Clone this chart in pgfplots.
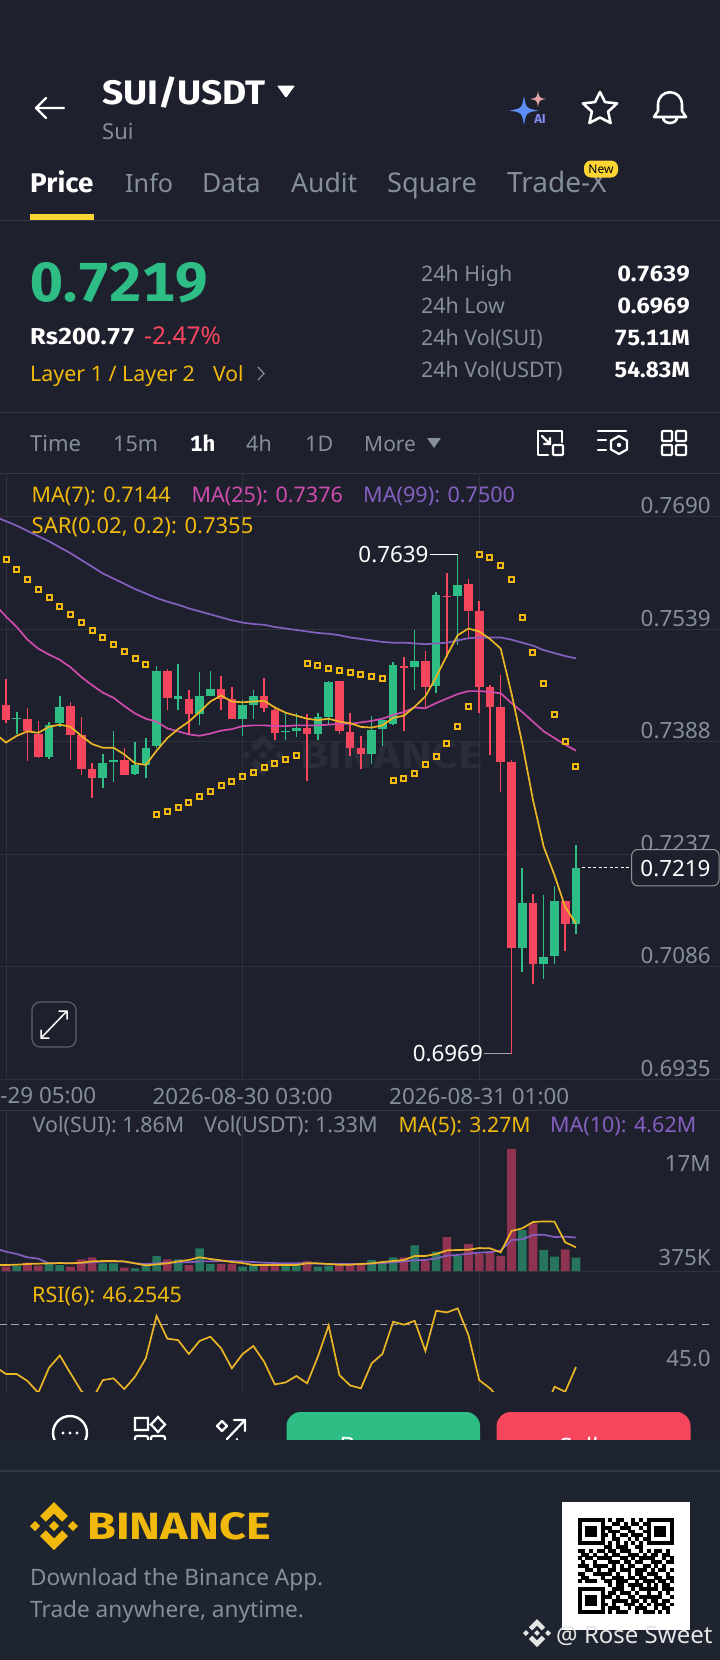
\documentclass[border=0pt]{standalone}
\usepackage{pgfplots}
\usepackage{pgfplotstable}
\usepackage{fontspec}
\setmainfont{Noto Sans}
\newfontfamily\semi{Fira Sans}[Numbers=Monospaced]
\newcommand\SB[1]{\semi\bfseries\addfontfeature{FakeStretch=#1}}
\pgfplotsset{compat=1.18}
\definecolor{bg}{HTML}{1E212D}
\definecolor{bgf}{HTML}{1E2530}
\definecolor{gridc}{HTML}{2E323D}
\definecolor{sepc}{HTML}{343843}
\definecolor{grayt}{HTML}{848E9C}
\definecolor{cgreen}{HTML}{2EBD85}
\definecolor{cred}{HTML}{F6465D}
\definecolor{dgreen}{HTML}{26755C}
\definecolor{dred}{HTML}{8E3350}
\definecolor{cyellow}{HTML}{F0B90B}
\definecolor{lyellow}{HTML}{EBB526}
\definecolor{cmag}{HTML}{CF4CAD}
\definecolor{cpur}{HTML}{8560C0}
\definecolor{wm}{HTML}{292D39}
\definecolor{cblue}{HTML}{5B8DF5}
\definecolor{cpink}{HTML}{E6A3A8}
\definecolor{cai}{HTML}{7F8CF0}
\definecolor{cnew}{HTML}{FCD535}
% i bot top low high
\pgfplotstableread{
i bot top L H
1 .7419 .7420 .7398 .7428
4 .7368 .7410 .7365 .7415
5 .7413 .7435 .7408 .7450
9 .7339 .7360 .7326 .7372
10 .7361 .7363 .7334 .7402
12 .7345 .7357 .7343 .7388
13 .7357 .7380 .7340 .7393
14 .7382 .7483 .7379 .7490
16 .7446 .7449 .7431 .7493
18 .7425 .7450 .7410 .7482
19 .7450 .7459 .7449 .7483
22 .7419 .7438 .7396 .7444
23 .7438 .7450 .7419 .7457
26 .7401 .7402 .7391 .7426
27 .7403 .7406 .7395 .7426
29 .7399 .7421 .7391 .7427
30 .7421 .7468 .7412 .7470
34 .7372 .7404 .7358 .7423
35 .7405 .7417 .7382 .7419
36 .7412 .7491 .7410 .7495
38 .7489 .7497 .7458 .7538
40 .7463 .7585 .7454 .7589
42 .7584 .7599 .7518 .7639
48 .7111 .7172 .7079 .7219
50 .7090 .7099 .7070 .7183
51 .7101 .7174 .7090 .7194
53 .7143 .7219 .7130 .7249
}\candG
\pgfplotstableread{
i bot top L H
0 .7417 .7437 .7413 .7472
2 .7402 .7418 .7362 .7433
3 .7367 .7398 .7366 .7416
6 .7397 .7436 .7363 .7441
7 .7352 .7397 .7343 .7421
8 .7339 .7351 .7313 .7360
11 .7343 .7363 .7343 .7379
15 .7447 .7483 .7430 .7486
17 .7425 .7446 .7399 .7457
20 .7446 .7459 .7430 .7476
21 .7419 .7446 .7419 .7462
24 .7433 .7450 .7428 .7473
25 .7400 .7431 .7390 .7433
28 .7399 .7407 .7336 .7425
31 .7402 .7470 .7398 .7470
32 .7379 .7401 .7369 .7426
33 .7372 .7379 .7351 .7396
37 .7487 .7490 .7402 .7502
39 .7462 .7496 .7434 .7510
41 .7582 .7584 .7502 .7614
43 .7563 .7600 .7527 .7606
44 .7461 .7563 .7426 .7577
45 .7435 .7462 .7370 .7464
46 .7361 .7435 .7320 .7477
47 .7111 .7361 .6969 .7364
49 .7090 .7172 .7063 .7184
52 .7143 .7174 .7107 .7174
}\candR
\pgfplotstableread{
i ma7 ma25 ma99
-1 .7399 .7572 .7690
0 .7387 .7556 .7684
1 .7396 .7542 .7678
2 .7402 .7525 .7671
3 .7400 .7513 .7664
4 .7408 .7505 .7657
5 .7411 .7498 .7649
6 .7408 .7488 .7641
7 .7396 .7475 .7632
8 .7385 .7464 .7623
9 .7380 .7454 .7614
10 .7380 .7447 .7607
11 .7371 .7436 .7600
12 .7359 .7426 .7593
13 .7357 .7419 .7587
14 .7376 .7415 .7581
15 .7393 .7406 .7576
16 .7405 .7402 .7572
17 .7415 .7398 .7567
18 .7428 .7396 .7563
19 .7442 .7399 .7559
20 .7450 .7403 .7555
21 .7442 .7405 .7551
22 .7441 .7409 .7548
23 .7442 .7410 .7546
24 .7443 .7410 .7545
25 .7434 .7409 .7542
26 .7427 .7409 .7540
27 .7423 .7410 .7538
28 .7419 .7410 .7536
29 .7417 .7410 .7534
30 .7419 .7411 .7533
31 .7415 .7412 .7531
32 .7413 .7412 .7528
33 .7408 .7414 .7526
34 .7407 .7416 .7524
35 .7410 .7419 .7522
36 .7420 .7424 .7521
37 .7423 .7428 .7521
38 .7435 .7434 .7520
39 .7449 .7433 .7519
40 .7475 .7440 .7520
41 .7504 .7446 .7521
42 .7531 .7452 .7524
43 .7540 .7456 .7527
44 .7536 .7456 .7528
45 .7526 .7455 .7528
46 .7513 .7453 .7528
47 .7453 .7440 .7525
48 .7386 .7428 .7521
49 .7310 .7415 .7517
50 .7247 .7402 .7511
51 .7209 .7393 .7507
52 .7166 .7384 .7503
53 .7144 .7376 .7500
}\maT
\pgfplotstableread{
i sar
0 .7633
1 .7619
2 .7606
3 .7593
4 .7581
5 .7570
6 .7559
7 .7548
8 .7538
9 .7528
10 .7518
11 .7509
12 .7500
13 .7492
14 .7291
15 .7295
16 .7300
17 .7307
18 .7314
19 .7321
20 .7329
21 .7335
22 .7342
23 .7347
24 .7353
25 .7359
26 .7364
27 .7369
28 .7493
29 .7490
30 .7487
31 .7484
32 .7481
33 .7478
34 .7475
35 .7473
36 .7336
37 .7339
38 .7346
39 .7357
40 .7368
41 .7386
42 .7409
43 .7436
44 .7639
45 .7635
46 .7624
47 .7606
48 .7555
49 .7508
50 .7466
51 .7425
52 .7389
53 .7355
}\sarT
\pgfplotstableread{
i v
1 .69
4 1.06
5 .83
9 1.06
10 1.06
12 .37
13 .83
14 2.07
16 1.61
18 3.13
19 .97
22 .60
23 .83
26 .74
27 .83
29 .60
30 .74
34 1.52
35 1.20
36 1.89
38 3.54
40 2.67
42 2.07
48 5.66
50 2.90
51 1.98
53 1.86
}\volG
\pgfplotstableread{
i v
0 .60
2 1.15
3 .74
6 .60
7 1.61
8 1.89
11 .46
15 1.61
17 .83
20 .97
21 .97
24 .74
25 .74
28 1.38
31 .83
32 .83
33 1.06
37 1.89
39 1.38
41 4.69
43 3.73
44 2.35
45 2.67
46 2.07
47 16.84
49 6.58
52 2.99
}\volR
\pgfplotstableread{
i m5 m10
-1 .83 3.13
0 .83 2.67
1 .87 2.35
2 .97 1.89
3 1.01 1.70
4 1.06 1.06
5 1.10 1.10
6 1.06 1.06
7 1.15 1.10
8 1.33 1.20
9 1.38 1.29
10 1.38 1.33
11 1.33 1.29
12 1.06 1.06
13 .78 .97
14 .92 1.06
15 1.06 1.15
16 1.33 1.20
17 1.52 1.20
18 1.89 1.33
19 1.66 1.33
20 1.47 1.38
21 1.24 1.38
22 1.10 1.33
23 .83 1.24
24 .83 1.15
25 .83 1.10
26 .83 1.06
27 .83 1.06
28 1.06 1.06
29 1.06 1.01
30 .97 .97
31 .87 .97
32 .87 .97
33 .97 .97
34 1.06 1.01
35 1.24 1.10
36 1.38 1.20
37 1.52 1.33
38 2.07 1.47
39 2.07 1.52
40 2.35 1.75
41 2.85 2.12
42 2.90 2.21
43 2.94 2.39
44 3.17 2.53
45 3.13 2.62
46 2.58 2.81
47 5.52 4.28
48 5.89 4.37
49 6.76 4.97
50 6.85 5.01
51 6.81 4.69
52 3.96 4.74
53 3.27 4.62
}\vmaT
\pgfplotstableread{
i r
-1 46.5
0 42.4
1 42.4
2 38.5
3 31.9
4 45.9
5 52.8
6 42.8
7 32.9
8 27.8
9 39.0
10 40.0
11 34.0
12 40.9
13 51.2
14 74.9
15 62.2
16 61.4
17 53.6
18 60.9
19 63.3
20 56.8
21 45.6
22 53.6
23 58.1
24 49.3
25 36.6
26 37.7
27 41.3
28 37.2
29 52.1
30 69.6
31 41.8
32 36.0
33 34.4
34 48.4
35 53.6
36 71.7
37 70.0
38 72.2
39 55.3
40 77.8
41 76.9
42 79.1
43 64.2
44 39.0
45 34.4
46 27.8
47 12.0
48 22.0
49 18.0
50 20.0
51 35.3
52 32.5
53 46.3
}\rsiT
\pgfplotsset{panel/.style={scale only axis,width=720pt,xmin=-0.558,xmax=66.39,
  axis line style={draw=none},tick style={draw=none},major tick length=0pt,
  xtick={0,22,44},xmajorgrids=true,ymajorgrids=true,
  grid style={color=gridc,line width=.8pt},
  yticklabel pos=right,
  ticklabel style={text=grayt,font=\fontsize{22.4}{22.4}\selectfont,inner sep=0pt},
  yticklabel style={anchor=base east,xshift=-9pt,yshift=3.2pt},
  xticklabels={}}}
\pgfplotsset{cw/.style={draw=none,mark=none,forget plot,error bars/.cd,y dir=plus,y explicit,error mark=none,error bar style={line width=1.5pt,color=#1}},
  cb/.style={draw=none,mark=none,forget plot,error bars/.cd,y dir=plus,y explicit,error mark=none,error bar style={line width=8.6pt,color=#1}}}
\newcommand\T[6]{\node[anchor=#3,inner sep=0pt,text=#5,font=\fontsize{#4}{#4}\selectfont,yshift={-0.357*#4*1pt}] at (#1,#2) {#6};}
\newcommand\binlogo[4]{\begin{scope}[shift={(#1,#2)},x=#3pt,y=#3pt]
 \fill[#4] (0,1)--(.58,.42)--(.34,.18)--(0,.52)--(-.34,.18)--(-.58,.42)--cycle;
 \fill[#4] (0,-1)--(.58,-.42)--(.34,-.18)--(0,-.52)--(-.34,-.18)--(-.58,-.42)--cycle;
 \fill[#4] (0,.21)--(.21,0)--(0,-.21)--(-.21,0)--cycle;
 \fill[#4] (.79,.21)--(1,0)--(.79,-.21)--(.58,0)--cycle;
 \fill[#4] (-.79,.21)--(-.58,0)--(-.79,-.21)--(-1,0)--cycle;
\end{scope}}
\newcommand\fourstar[4]{\fill[#4] (#1,#2-#3) .. controls (#1+.15*#3,#2-.15*#3) .. (#1+#3,#2) .. controls (#1+.15*#3,#2+.15*#3) .. (#1,#2+#3) .. controls (#1-.15*#3,#2+.15*#3) .. (#1-#3,#2) .. controls (#1-.15*#3,#2-.15*#3) .. cycle;}
\makeatletter
\newcommand\qrrow[2]{\def\qx{0}\@tfor\qc:=#2\do{\if\qc1\fill[black] ({577.6+3.84*\qx},{1518+3.84*#1}) rectangle ++(3.94,3.94);\fi\pgfmathtruncatemacro\qxn{\qx+1}\global\let\qx\qxn}}
\makeatother
\begin{document}
\begin{tikzpicture}
\path[use as bounding box,clip] (0,0) rectangle (720pt,-1660pt);
\begin{scope}[x=1pt,y=-1pt]
\fill[bg] (0,0) rectangle (720,1660);
\fill[bgf] (0,1440) rectangle (720,1660);
% header
\draw[white,line width=2.3pt,line cap=round,line join=round] (36,108)--(64,108) (46,98)--(36,108)--(46,118);
\T{102}{92.5}{base west}{34}{white}{\SB{1.09}SUI/USDT}
\fill[white,rounded corners=1pt] (277,85.5)--(295,85.5)--(286,98)--cycle;
\T{102}{131.5}{base west}{22}{grayt}{Sui}
\fourstar{524}{110.5}{14.5}{cblue}
\fourstar{538}{99}{8}{cpink}
\T{540}{119}{base}{13}{cai}{\semi\bfseries AI}
\draw[white,line width=2.6pt,line join=round] (600,92)--(605,102.1)--(617.1,103.4)--(608.1,111.6)--(610.6,123)--(600,117.5)--(589.4,123)--(591.9,111.6)--(582.9,103.4)--(595,102.1)--cycle;
\draw[white,line width=2.6pt,line join=round,line cap=round] (654,117)--(658,111) -- (658,105) .. controls (658,88) and (682,88) .. (682,105) -- (682,111) -- (686,117) -- cycle (663,119) .. controls (665,124.5) and (675,124.5) .. (677,119);
\T{30}{183}{base west}{27}{white}{\SB{1.03}Price}
\T{125}{183}{base west}{25.2}{grayt}{Info}
\T{202}{183}{base west}{26.4}{grayt}{Data}
\T{291}{183}{base west}{26.5}{grayt}{Audit}
\T{387}{183}{base west}{27.2}{grayt}{Square}
\T{507}{183}{base west}{28}{grayt}{Trade-X}
\fill[cnew,rounded corners=7pt] (584,160.5) rectangle (618,177.5);
\T{601}{169}{base}{12}{black}{New}
\draw[sepc,line width=1pt] (0,220.5)--(720,220.5);
\fill[cnew] (30,214) rectangle (94,220);
\T{30}{282}{base west}{55}{cgreen}{\SB{1.065}0.7219}
\T{30}{336}{base west}{23}{white}{\SB{1.1}Rs200.77}
\T{144}{336}{base west}{24.5}{cred}{-2.47\%}
\T{30}{373.5}{base west}{21.4}{cyellow}{Layer 1 / Layer 2}
\T{213}{373.5}{base west}{21}{cyellow}{Vol}
\draw[grayt,line width=1.2pt] (258,367)--(264,373.5)--(258,380);
\T{421}{274}{base west}{21.4}{grayt}{24h High}
\T{421}{306}{base west}{21.4}{grayt}{24h Low}
\T{421}{338}{base west}{21.4}{grayt}{24h Vol(SUI)}
\T{421}{370}{base west}{21.4}{grayt}{24h Vol(USDT)}
\T{690}{274}{base east}{22}{white}{\SB{1.08}0.7639}
\T{690}{306}{base east}{22}{white}{\SB{1.08}0.6969}
\T{690}{338}{base east}{22}{white}{\SB{1.05}75.11M}
\T{690}{370}{base east}{22}{white}{\SB{1.05}54.83M}
\draw[sepc,line width=1pt] (0,412)--(720,412);
\T{30}{444}{base west}{22}{grayt}{Time}
\T{113}{444}{base west}{21.6}{grayt}{15m}
\T{190}{444}{base west}{22}{white}{\semi\bfseries 1h}
\T{246}{444}{base west}{21.5}{grayt}{4h}
\T{305}{444}{base west}{21.5}{grayt}{1D}
\T{364}{444}{base west}{21}{grayt}{More}
\fill[grayt] (427,438)--(441,438)--(434,448)--cycle;
\begin{scope}[white,line width=2.2pt,line cap=round,line join=round]
\draw (548,455)--(538,455)--(538,431)--(562,431)--(562,442);
\draw[rounded corners=1pt] (553,445) rectangle (563,455);
\draw (542,436)--(550,444) (544,444)--(550,444)--(550,438);
\draw (598,431)--(626,431) (598,440)--(606,440) (598,450)--(606,450);
\draw (619,436)--(627,440.5)--(627,449.5)--(619,454)--(611,449.5)--(611,440.5)--cycle;
\fill (619,445) circle (2.2);
\draw[rounded corners=1pt] (662,431) rectangle (672,441) (676,431) rectangle (686,441) (662,445) rectangle (672,455) (676,445) rectangle (686,455);
\end{scope}
\draw[sepc,line width=1pt] (0,473)--(720,473);
% watermark
\binlogo{263}{755}{21}{wm}
\T{300}{755}{base west}{37}{wm}{\SB{1.26}BINANCE}
\draw[sepc,line width=1pt] (0,1110)--(720,1110);
\end{scope}
% price panel
\begin{axis}[panel,at={(0pt,-1079.3pt)},anchor=south west,height=606.3pt,
 ymin=.6935,ymax=.77487,ytick={.6935,.7086,.7237,.7388,.7539,.7690},
 yticklabels={0.6935,0.7086,0.7237,0.7388,0.7539,0.7690},
 xticklabels={,2026-08-30 03:00,2026-08-31 01:00},
 xticklabel style={yshift=-9pt}]
\addplot[cw=cgreen] table[x=i,y=L,y error plus expr=\thisrow{H}-\thisrow{L}] {\candG};
\addplot[cw=cred] table[x=i,y=L,y error plus expr=\thisrow{H}-\thisrow{L}] {\candR};
\addplot[cb=cgreen] table[x=i,y=bot,y error plus expr=\thisrow{top}-\thisrow{bot}] {\candG};
\addplot[cb=cred] table[x=i,y=bot,y error plus expr=\thisrow{top}-\thisrow{bot}] {\candR};
\addplot[only marks,mark=square*,mark size=2.5pt,mark options={draw=cyellow,fill=bg,line width=2pt}] table[x=i,y=sar] {\sarT};
\addplot[cpur,line width=1.7pt] table[x=i,y=ma99] {\maT};
\addplot[cmag,line width=1.7pt] table[x=i,y=ma25] {\maT};
\addplot[lyellow,line width=1.7pt] table[x=i,y=ma7] {\maT};
\draw[white,line width=.8pt] (axis cs:39.4,.7639)--(axis cs:42,.7639);
\node[anchor=east,inner sep=1pt,text=white,font=\fontsize{22.4}{22.4}\selectfont] at (axis cs:39.4,.7639) {0.7639};
\draw[grayt!80!white,line width=1pt] (axis cs:44.45,.6969)--(axis cs:47,.6969);
\node[anchor=east,inner sep=1pt,text=white,font=\fontsize{22.4}{22.4}\selectfont] at (axis cs:44.45,.6969) {0.6969};
\end{axis}
% volume panel
\begin{axis}[panel,at={(0pt,-1271pt)},anchor=south west,height=161pt,
 ymin=0,ymax=22.22,ytick={0},yticklabels={375K},
 yticklabel style={yshift=2.4pt},
 extra y ticks={17},extra y tick labels={17M},
 extra y tick style={yticklabel style={anchor=north east,yshift=-13pt},ymajorgrids=false}]
\addplot[ybar,bar width=8.6pt,bar shift=0pt,fill=dgreen,draw=none] table[x=i,y=v] {\volG};
\addplot[ybar,bar width=8.6pt,bar shift=0pt,fill=dred,draw=none] table[x=i,y=v] {\volR};
\addplot[cpur,line width=1.7pt] table[x=i,y=m10] {\vmaT};
\addplot[lyellow,line width=1.7pt] table[x=i,y=m5] {\vmaT};
\end{axis}
% RSI panel
\begin{axis}[panel,at={(0pt,-1391.7pt)},anchor=south west,height=120.7pt,
 ymin=32.5,ymax=100.06,ytick={45},yticklabels={45.0},ymajorgrids=false]
\addplot[gray!70!white,line width=1.1pt,dash pattern=on 7pt off 4.5pt] coordinates {(-0.558,70)(65.74,70)};
\addplot[lyellow,line width=1.7pt] table[x=i,y=r] {\rsiT};
\end{axis}
\begin{scope}[x=1pt,y=-1pt]
% overlay texts on the panels
\T{31.5}{495}{base west}{21.5}{cyellow}{MA(7): 0.7144}
\T{191.5}{495}{base west}{21.5}{cmag}{MA(25): 0.7376}
\T{363}{495}{base west}{21.6}{cpur}{MA(99): 0.7500}
\T{31.5}{526}{base west}{22}{cyellow}{SAR(0.02, 0.2): 0.7355}
\T{96.5}{1095}{base east}{22.4}{grayt}{-29 05:00}
% last price
\draw[white,line width=.8pt,dash pattern=on 3pt off 2.5pt] (582,867.7)--(631.7,867.7);
\draw[gray!85!white,fill=bg,rounded corners=6pt,line width=1pt] (631.7,849.5) rectangle (719,885.8);
\T{675.5}{868}{base}{22.4}{white}{0.7219}
% expand button
\draw[sepc!80!white,rounded corners=8pt,line width=1.2pt] (32,1002) rectangle (76,1047);
\draw[white,line width=1.5pt,line cap=round,line join=round] (41,1038)--(67,1011) (41,1030)--(41,1038)--(49,1038) (59,1011)--(67,1011)--(67,1019);
\T{32.5}{1125}{base west}{21.4}{grayt}{Vol(SUI): 1.86M}
\T{204}{1125}{base west}{21.7}{grayt}{Vol(USDT): 1.33M}
\T{398.5}{1125}{base west}{21.2}{cyellow}{MA(5): 3.27M}
\T{550}{1125}{base west}{21.5}{cpur}{MA(10): 4.62M}
\T{32}{1295}{base west}{21.4}{cyellow}{RSI(6): 46.2545}
% bottom toolbar
\begin{scope}
\clip (0,1400) rectangle (720,1439.3);
\draw[white,line width=2.4pt] (70,1433) circle (17);
\fill[white] (63,1433) circle (1.6) (70,1433) circle (1.6) (77,1433) circle (1.6);
\draw[white,line width=2.2pt] (135,1418) rectangle (148,1430) (158,1417)--(165,1424.5)--(158,1432)--(151,1424.5)--cycle;
\draw[white,line width=2.2pt,rounded corners=2pt] (135,1436) rectangle (148,1448) (151,1436) rectangle (165,1448);
\draw[white,line width=2.2pt,line cap=round,line join=round] (222,1421)--(227,1426)--(222,1431)--(217,1426)--cycle (227,1439)--(245,1420) (234,1420)--(245,1420)--(245,1431) (237,1445)--(237,1439);
\fill[cgreen,rounded corners=14pt] (286.5,1412) rectangle (480,1460);
\fill[cred,rounded corners=14pt] (496.6,1412) rectangle (690.5,1460);
\node[text=white,font=\fontsize{24}{24}\selectfont\bfseries,anchor=north,inner sep=0pt] at (361,1437) {Buy};
\node[text=white,font=\fontsize{24}{24}\selectfont\bfseries,anchor=north,inner sep=0pt] at (579,1437) {Sell};
\end{scope}
% footer
\draw[sepc,line width=2pt] (0,1471)--(720,1471);
\binlogo{54}{1526}{24}{cyellow}
\T{87}{1526}{base west}{38}{cyellow}{\SB{1.23}BINANCE}
\T{30}{1577}{base west}{22.6}{grayt}{Download the Binance App.}
\T{30}{1609}{base west}{22.6}{grayt}{Trade anywhere, anytime.}
\fill[white] (562,1502) rectangle (690,1630);
\qrrow{0}{1111111010110010101111111}
\qrrow{1}{1000001001101011011000001}
\qrrow{2}{1011101110011100101011101}
\qrrow{3}{1011101011100110011011101}
\qrrow{4}{1011101101011011101011101}
\qrrow{5}{1000001001100101011000001}
\qrrow{6}{1111111010101010101111111}
\qrrow{7}{0000000110111001100000000}
\qrrow{8}{1101011011011100101011010}
\qrrow{9}{0110100101100111010110110}
\qrrow{10}{1011011110011010111100101}
\qrrow{11}{0100100011101101100111011}
\qrrow{12}{1110111101010110011010100}
\qrrow{13}{0011010011011101110101101}
\qrrow{14}{1100111110100101101110010}
\qrrow{15}{0110001001110110110011011}
\qrrow{16}{1011100110111001011101101}
\qrrow{17}{0000000010110111101010110}
\qrrow{18}{1111111001110010111110111}
\qrrow{19}{1000001011011101001001010}
\qrrow{20}{1011101110100110111111001}
\qrrow{21}{1011101001111011010110110}
\qrrow{22}{1011101101001110101011101}
\qrrow{23}{1000001011100101110010110}
\qrrow{24}{1111111010111001011101010}
\binlogo{537}{1633}{14}{white!80!gray}
\T{556}{1635}{base west}{24}{white!80!gray}{@ Rose Sweet}
\end{scope}
\end{tikzpicture}
\end{document}
